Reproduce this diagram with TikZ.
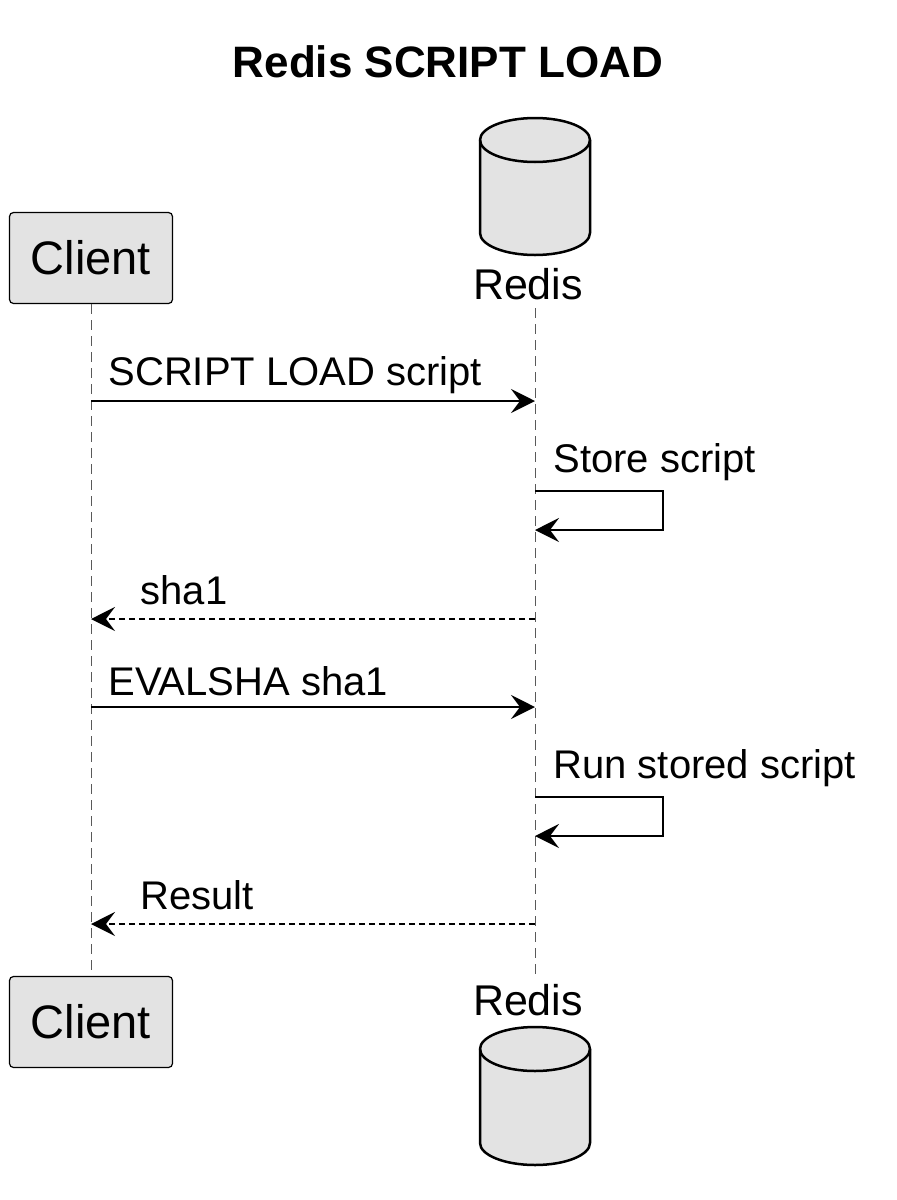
\documentclass[tikz,border=0pt]{standalone}
\usepackage{fontspec}
\setmainfont{Liberation Sans}
\usetikzlibrary{arrows.meta}
\newcommand{\dbcyl}[3]{% x, top centre y, bottom centre y
  \filldraw[fill=gray!22,line width=2.5pt] (#1-55,#2) -- (#1-55,#3) arc[start angle=180,end angle=360,x radius=55,y radius=-22] -- (#1+55,#2) arc[start angle=0,end angle=180,x radius=55,y radius=-22] -- cycle;
  \draw[line width=2.5pt] (#1-55,#2) arc[start angle=180,end angle=360,x radius=55,y radius=-22];
}
\begin{document}
\begin{tikzpicture}[x=1pt,y=-1pt,
  actor/.style={draw,rounded corners=4pt,fill=gray!22,line width=1.2pt,minimum width=163pt,minimum height=91pt,font=\fontsize{47}{50}\selectfont},
  life/.style={dash pattern=on 10pt off 6pt,line width=1pt,gray!70!black},
  msg/.style={line width=2.5pt,-{Stealth[length=24pt,width=24pt,inset=9pt]}},
  reply/.style={msg,dash pattern=on 6pt off 4pt},
  lbl/.style={anchor=west,font=\fontsize{40}{44}\selectfont}]
  \useasboundingbox (0,0) rectangle (897,1200);
  % Title
  \node[font=\bfseries\fontsize{44}{48}\selectfont] (title) at (448,62) {Redis SCRIPT LOAD};
  % Participants
  \node[actor] (clientTop) at (91,258) {Client};
  \node[actor] (clientBot) at (91,1022) {Client};
  \dbcyl{535}{140}{233}
  \node[font=\fontsize{43}{46}\selectfont] (redisTopL) at (528,284) {Redis};
  \node[font=\fontsize{43}{46}\selectfont] (redisBotL) at (528,1000) {Redis};
  \dbcyl{535}{1049}{1143}
  % Lifelines
  \draw[life] (clientTop.south) -- (clientBot.north);
  \draw[life] (535,308) -- (535,976);
  % Message points
  \foreach \n/\y in {1/401,3/619,4/707,6/924} {
    \coordinate (c\n) at (91,\y);
    \coordinate (r\n) at (535,\y);
  }
  \foreach \n/\y in {2/491,5/797} {
    \coordinate (s\n) at (535,\y);
    \coordinate (t\n) at (535,\y+39);
  }
  % Messages
  \draw[msg] (c1) -- (r1);
  \node[lbl] at (105,375) {SCRIPT LOAD script};
  \draw[msg] (s2) -| (663,530) -- (t2);
  \node[lbl] at (550,462) {Store script};
  \draw[reply] (r3) -- (c3);
  \node[lbl] at (137,590) {sha1};
  \draw[msg] (c4) -- (r4);
  \node[lbl] at (105,681) {EVALSHA sha1};
  \draw[msg] (s5) -| (663,836) -- (t5);
  \node[lbl] at (550,768) {Run stored script};
  \draw[reply] (r6) -- (c6);
  \node[lbl] at (137,895) {Result};
\end{tikzpicture}
\end{document}
